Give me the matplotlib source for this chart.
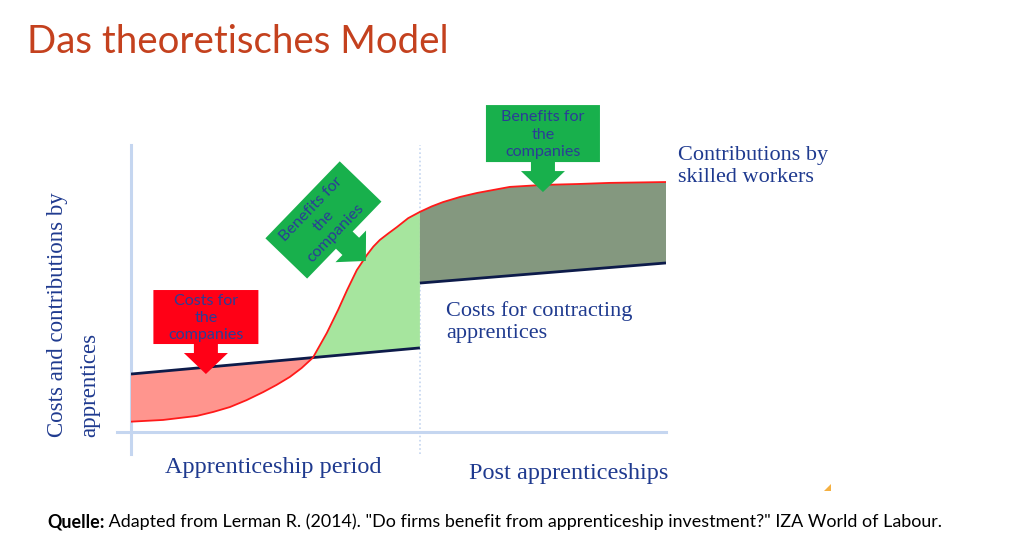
import numpy as np
import matplotlib
matplotlib.use("Agg")
import matplotlib.pyplot as plt
from matplotlib.patches import Polygon

# ------------------------------------------------------------
# Data (x: time 0..10, y: value 0..10)
# ------------------------------------------------------------
appr_x = [0.00, 0.60, 1.23, 1.54, 1.85, 2.16, 2.47, 2.72, 2.97, 3.19, 3.40, 3.66, 3.87, 4.04,
          4.22, 4.41, 4.53, 4.65, 4.81, 4.97, 5.18, 5.40]
appr_contrib = [0.36, 0.42, 0.56, 0.70, 0.87, 1.11, 1.39, 1.64, 1.92, 2.23, 2.59, 3.45, 4.25, 4.95,
                5.64, 6.17, 6.46, 6.69, 6.92, 7.14, 7.45, 7.67]
cross_idx = 10  # point where contribution meets the cost line

post_x = [5.40, 5.62, 5.83, 6.15, 6.47, 7.08, 7.70, 8.34, 8.95, 10.00]
post_contrib = [7.67, 7.86, 8.01, 8.19, 8.33, 8.54, 8.61, 8.64, 8.68, 8.71]

cost_appr_x = [0.00, 5.40]
cost_appr_y = [2.02, 2.93]
cost_post_x = [5.40, 10.00]
cost_post_y = [5.19, 5.89]

divider_x = 5.40

# callouts: (tip x, tip y, angle, text, colour)
callouts = [
    (1.40, 2.02, 0, "Costs for\nthe\ncompanies", "#ff0016"),
    (4.39, 5.96, 46, "Benefits for\nthe\ncompanies", "#18b04c"),
    (7.70, 8.36, 0, "Benefits for\nthe\ncompanies", "#18b04c"),
]

title = "Das theoretisches Model"
ylabel_lines = ["Costs and contributions by", "apprentices"]
source_bold = "Quelle:"
source_text = ' Adapted from Lerman R. (2014). "Do firms benefit from apprenticeship investment?" IZA World of Labour.'

NAVY = "#1f3a8f"
AXIS_BLUE = "#c5d6f0"
SERIF = ["Liberation Serif", "DejaVu Serif"]
SANS = ["Lato", "DejaVu Sans"]


def draw_callout(over, tip, angle, text, color, bw, bh):
    hl, hw, sl, sw = 21, 22, 9, 12
    pts = [(0, 0), (hw, hl), (sw, hl), (sw, hl + sl), (bw / 2, hl + sl),
           (bw / 2, hl + sl + bh), (-bw / 2, hl + sl + bh), (-bw / 2, hl + sl),
           (-sw, hl + sl), (-sw, hl), (-hw, hl)]
    t = np.radians(angle)
    c, s = np.cos(t), np.sin(t)

    def to_pix(x, y):
        return (tip[0] + x * c - y * s, tip[1] - (x * s + y * c))

    poly = [to_pix(x, y) for x, y in pts]
    over.add_patch(Polygon(poly, closed=True, facecolor=color, edgecolor="none", zorder=3))
    cx, cy = to_pix(0, hl + sl + bh / 2)
    over.text(cx, cy + 1, text, rotation=angle, rotation_mode="anchor", ha="center", va="center",
              fontsize=11.6, family=SANS, color="#2b3d96", linespacing=1.3, zorder=4)


fig = plt.figure(figsize=(10.24, 5.47), dpi=100)
fig.patch.set_facecolor("white")

ax = fig.add_axes([131 / 1024, (547 - 432) / 547, 535 / 1024, 287 / 547])
ax.set_xlim(0, 10)
ax.set_ylim(0, 10)
ax.axis("off")

# filled areas
ax.fill(appr_x[:cross_idx + 1] + [cost_appr_x[0]],
        appr_contrib[:cross_idx + 1] + [cost_appr_y[0]],
        color="#ff958e", lw=0, zorder=1)
ax.fill(appr_x[cross_idx:] + [cost_appr_x[1]],
        appr_contrib[cross_idx:] + [cost_appr_y[1]],
        color="#a6e59e", lw=0, zorder=1)
ax.fill(post_x + cost_post_x[::-1], post_contrib + cost_post_y[::-1],
        color="#84987f", lw=0, zorder=1)

# axes lines
ax.axvline(0, ymin=-0.075, ymax=1.0, color=AXIS_BLUE, lw=2.2, clip_on=False, zorder=0)
ax.axhline(0, xmin=-0.026, xmax=1.0, color=AXIS_BLUE, lw=2.2, clip_on=False, zorder=0)
ax.axvline(divider_x, ymin=-0.075, ymax=1.0, color=AXIS_BLUE, lw=1.2, ls=(0, (1, 1.5)),
           clip_on=False, zorder=0)

# lines
ax.plot(cost_appr_x, cost_appr_y, color="#0d1b4a", lw=2, zorder=3, solid_capstyle="butt")
ax.plot(cost_post_x, cost_post_y, color="#0d1b4a", lw=2, zorder=3, solid_capstyle="butt")
ax.plot(appr_x + post_x[1:], appr_contrib + post_contrib[1:], color="#ff1a1a", lw=1.3, zorder=4)

# overlay in pixel coordinates for the slide decorations
over = fig.add_axes([0, 0, 1, 1], zorder=5)
over.set_xlim(0, 1024)
over.set_ylim(547, 0)
over.axis("off")
over.patch.set_alpha(0)

sizes = [(105, 54), (107, 58), (114, 57)]
for (tx, ty, ang, txt, col), (bw, bh) in zip(callouts, sizes):
    disp = ax.transData.transform((tx, ty))
    tip = over.transData.inverted().transform(disp)
    draw_callout(over, tip, ang, txt, col, bw, bh)

# texts
over.text(27, 53, title, fontsize=27.6, family=SANS, weight="normal", color="#c4411e", va="baseline")

over.text(678, 182, "Contributions by\nskilled workers", fontsize=16, family=SERIF, color=NAVY,
          va="baseline", linespacing=1.2)
over.text(446, 338, "Costs for contracting\napprentices", fontsize=16, family=SERIF, color=NAVY,
          va="baseline", linespacing=1.2)
over.text(273, 468, "Apprenticeship period", fontsize=17.5, family=SERIF, color=NAVY,
          ha="center", va="center")
over.text(569, 473, "Post apprenticeships", fontsize=17.5, family=SERIF, color=NAVY,
          ha="center", va="center")
over.text(58, 437, ylabel_lines[0], fontsize=16.5, family=SERIF, color=NAVY, rotation=90,
          ha="left", va="center", rotation_mode="anchor")
over.text(90, 437, ylabel_lines[1], fontsize=16.5, family=SERIF, color=NAVY, rotation=90,
          ha="left", va="center", rotation_mode="anchor")

# source line with bold prefix
fig.canvas.draw()
renderer = fig.canvas.get_renderer()
qb = over.text(47, 522, source_bold, fontsize=12.9, family=SANS, weight="bold", color="black",
               va="center")
bb = qb.get_window_extent(renderer=renderer)
x_end = over.transData.inverted().transform((bb.x1, bb.y0))[0]
over.text(x_end, 522, source_text, fontsize=12.9, family=SANS, color="black", va="center")

# small orange mark on the slide
over.add_patch(Polygon([(824, 491), (831, 491), (831, 484)], closed=True,
                       facecolor="#f5b041", edgecolor="none"))

fig.savefig("out.png", dpi=100)
